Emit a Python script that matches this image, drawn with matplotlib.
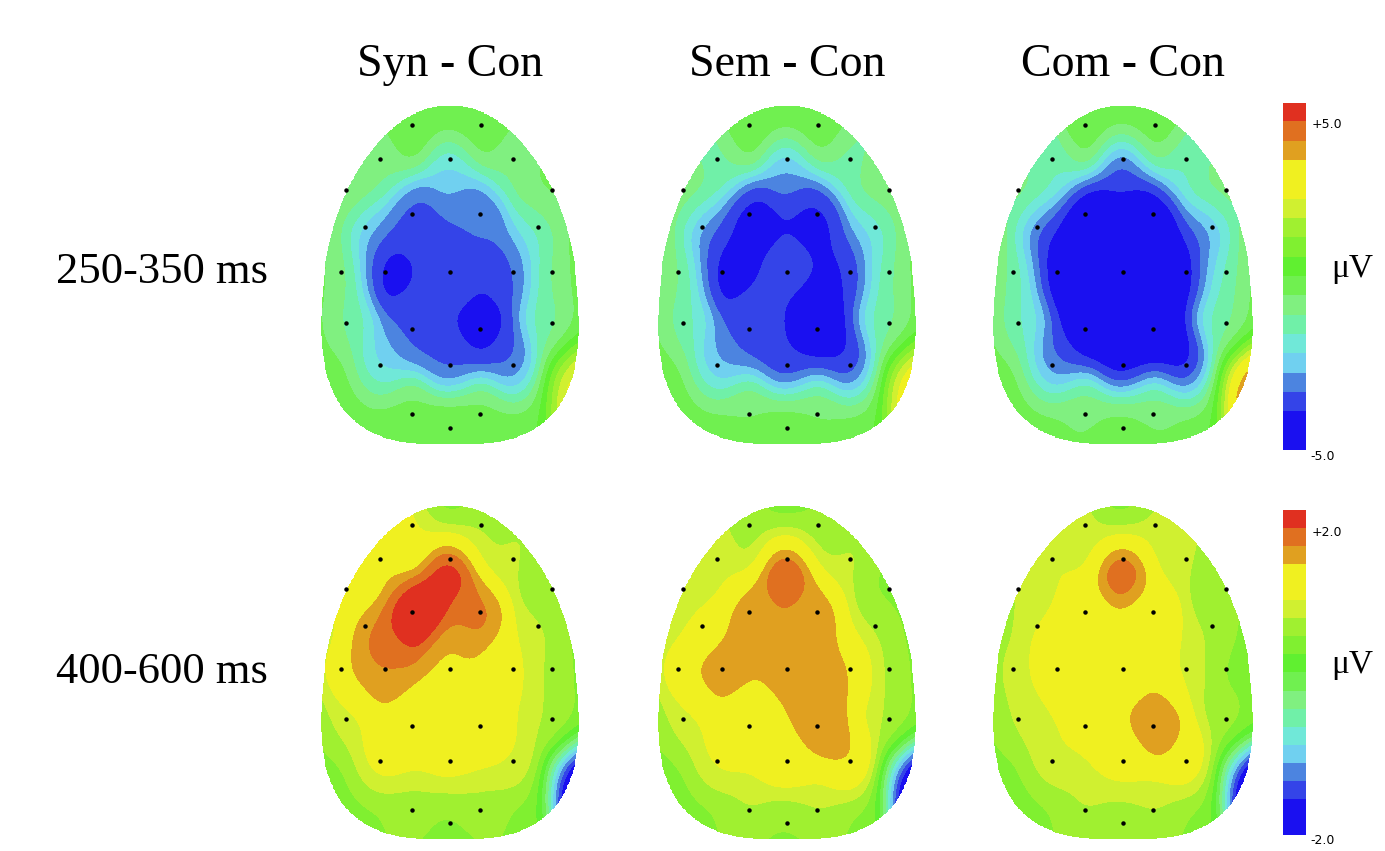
import numpy as np
import matplotlib
matplotlib.use("Agg")
import matplotlib.pyplot as plt
from matplotlib.colors import ListedColormap, BoundaryNorm

col_titles = ["Syn - Con", "Sem - Con", "Com - Con"]
row_titles = ["250-350 ms", "400-600 ms"]
ranges = [(-5.0, 5.0), (-2.0, 2.0)]
range_labels = [("+5.0", "-5.0"), ("+2.0", "-2.0")]

# electrode positions (normalized head coords)
elec_x = [-0.30, 0.25, -0.56, 0.00, 0.50, -0.83, 0.81, -0.30, 0.24, -0.68, 0.70,
          -0.87, -0.52, 0.00, 0.50, 0.81, -0.30, 0.24, -0.83, 0.81,
          -0.56, 0.00, 0.50, -0.30, 0.24, 0.00]
elec_y = [0.88, 0.88, 0.68, 0.68, 0.68, 0.50, 0.50, 0.36, 0.36, 0.28, 0.28,
          0.02, 0.02, 0.02, 0.02, 0.02, -0.32, -0.32, -0.28, -0.28,
          -0.53, -0.53, -0.53, -0.82, -0.82, -0.90]

# values at electrodes
vals = {
 (0, 0): [0, 0, -1.5, -2.5, -1.5, -0.5, -0.5, -3.5, -3.3, -3.0, -2.0,
          -1.0, -4.2, -3.5, -3.6, -1.0, -3.5, -4.2, -1.5, -1.5,
          -2.5, -3.5, -3.5, -0.5, -0.5, 0],
 (0, 1): [0, 0, -2.0, -3.0, -2.0, -0.8, -0.8, -4.1, -4.0, -3.5, -2.5,
          -1.2, -4.2, -3.8, -4.0, -1.2, -3.6, -4.3, -1.8, -1.5,
          -3.0, -3.8, -4.0, -0.8, -0.8, -0.3],
 (0, 2): [0, 0, -2.5, -3.8, -2.5, -1.0, -1.0, -4.4, -4.3, -4.0, -3.5,
          -1.5, -4.4, -4.3, -4.4, -1.5, -4.3, -4.4, -2.0, -1.5,
          -3.5, -4.3, -4.3, -1.0, -1.0, -0.5],
 (1, 0): [1.3, 0.8, 1.8, 2.0, 0.9, 1.3, 0.5, 2.0, 1.6, 1.7, 0.8,
          1.45, 1.55, 1.3, 1.0, 0.6, 1.1, 1.1, 0.9, 0.7,
          1.1, 1.0, 0.9, 0.7, 0.7, 0.5],
 (1, 1): [0.7, 0.6, 1.1, 1.9, 0.9, 0.8, 0.4, 1.45, 1.45, 1.2, 0.7,
          1.4, 1.45, 1.4, 1.4, 0.6, 1.1, 1.45, 0.9, 0.7,
          1.0, 1.2, 1.4, 0.8, 0.8, 0.6],
 (1, 2): [1.0, 1.0, 1.2, 1.85, 0.9, 0.8, 0.5, 1.2, 1.2, 1.0, 0.7,
          0.9, 1.0, 0.95, 0.9, 0.4, 0.9, 1.6, 0.8, 0.6,
          0.9, 1.0, 1.2, 0.8, 0.8, 0.7],
}
edge_vals = [0.0, 0.3]           # value along the scalp border per row
corner_vals = {(0, 0): 3.0, (0, 1): 3.5, (0, 2): 4.8,
               (1, 0): -2.5, (1, 1): -2.5, (1, 2): -2.5}

colors = ["#1a10f0", "#1a10f0", "#3444e8", "#4c84e0", "#70d0f0", "#70e8d8",
          "#70f0a8", "#80f080", "#70f050", "#60f030", "#80f030", "#a0f030",
          "#d0f030", "#f0f020", "#f0f020", "#e0a020", "#e07020", "#e03020"]
cmap = ListedColormap(colors)


def halfw(y):
    q = np.where(y > 0, 2.0, 2.8)
    return (1 - np.abs(y) ** q) ** (1 / q) * (1 - 0.12 * y)


def smooth(px, py, pv, pw, gx, gy, s=0.14):
    px, py, pv, pw = map(np.asarray, (px, py, pv, pw))
    d2 = (gx[..., None] - px) ** 2 + (gy[..., None] - py) ** 2
    k = np.exp(-d2 / (2 * s * s)) * pw + 1e-12
    return (k * pv).sum(-1) / k.sum(-1)


W, H = 1385, 851
fig = plt.figure(figsize=(W / 100, H / 100), dpi=100)

def pax(x0, y0, x1, y1):
    return fig.add_axes([x0 / W, 1 - y1 / H, (x1 - x0) / W, (y1 - y0) / H])

col_x = [(318, 582), (655, 919), (990, 1256)]
row_y = [(105, 445), (505, 840)]

tb = np.linspace(-1, 1, 40, endpoint=False) * np.pi
by = np.sin(tb) * 1.05
bx = np.cos(tb) * halfw(np.clip(by, -1, 1)) * 1.05

gy, gx = np.mgrid[-1:1:300j, -1.05:1.05:300j]
mask = np.abs(gx) > halfw(gy)

for r in range(2):
    lo, hi = ranges[r]
    levels = np.linspace(lo, hi, len(colors) + 1)
    norm = BoundaryNorm(levels, cmap.N)
    for c in range(3):
        ax = pax(col_x[c][0], row_y[r][0], col_x[c][1], row_y[r][1])
        px = list(elec_x) + list(bx) + [1.06]
        py = list(elec_y) + list(by) + [-0.66]
        pv = (list(vals[(r, c)]) + [edge_vals[r]] * len(bx)
              + [corner_vals[(r, c)]])
        pw = [1.0] * len(elec_x) + [0.35] * len(bx) + [2.0]
        Z = smooth(px, py, pv, pw, gx, gy)
        Z = np.clip(Z, lo + 1e-3, hi - 1e-3)
        Z = np.ma.array(Z, mask=mask)
        ax.contourf(gx, gy, Z, levels=levels, cmap=cmap, norm=norm)
        ax.plot(elec_x, elec_y, "o", color="black", markersize=2.2)
        ax.set_xlim(-1.05, 1.05)
        ax.set_ylim(-1, 1)
        ax.axis("off")
    # colorbar
    cy0, cy1 = (103, 450) if r == 0 else (510, 835)
    cax = pax(1283, cy0, 1306, cy1)
    cax.imshow(np.arange(len(colors))[::-1, None], cmap=cmap, aspect="auto",
               interpolation="nearest")
    cax.axis("off")
    fig.text(1312 / W, 1 - (cy0 + 22) / H, range_labels[r][0], fontsize=9,
             family="DejaVu Sans", va="center")
    fig.text(1310 / W, 1 - (cy1 + 6) / H, range_labels[r][1], fontsize=9,
             family="DejaVu Sans", va="center")
    fig.text(1352 / W, 1 - ((cy0 + cy1) / 2 - 8) / H, "μV", fontsize=24,
             family="Liberation Serif", ha="center", va="center")
    fig.text(162 / W, 1 - (272 if r == 0 else 672) / H, row_titles[r],
             fontsize=32, family="Liberation Serif", ha="center", va="center")

for c in range(3):
    fig.text(sum(col_x[c]) / 2 / W, 1 - 65 / H, col_titles[c], fontsize=33,
             family="Liberation Serif", ha="center", va="center")

fig.savefig("out.png", dpi=100, facecolor="white")
